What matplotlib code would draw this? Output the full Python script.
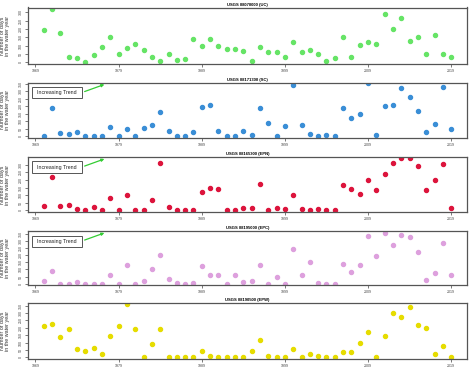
import matplotlib
matplotlib.use("Agg")
import matplotlib.pyplot as plt
from matplotlib.patches import FancyArrowPatch

years = list(range(1970, 2020))

titles = ["USGS 08070000 (UC)", "USGS 08171300 (SC)", "USGS 08165300 (EPN)",
          "USGS 08195000 (EPC)", "USGS 08190500 (EPW)"]

uc = [193, 322, 173, 30, 26, 0, 42, 89, 149, 48, 87, 107, 76, 30, 6, 48, 14, 18, 139, 97,
      139, 95, 78, 82, 66, 10, 93, 62, 60, 32, 121, 62, 76, 48, 6, 28, 153, 30, 105, 123,
      107, 288, 201, 266, 129, 149, 48, 163, 48, 32]
sc = [2, 191, 20, 15, 29, 0, 0, 0, 64, 0, 51, 0, 55, 73, 161, 35, 0, 0, 31, 196,
      207, 35, 0, 0, 35, 11, 187, 90, 4, 66, 343, 75, 15, 2, 9, 2, 189, 123, 147, 356,
      7, 205, 209, 326, 260, 169, 29, 84, 332, 51]
epn = [30, 221, 26, 37, 9, 2, 22, 2, 82, 2, 103, 2, 2, 67, 314, 22, 4, 2, 2, 118,
       148, 142, 2, 2, 13, 17, 172, 2, 17, 6, 99, 9, 2, 9, 2, 2, 170, 142, 110, 198,
       135, 243, 314, 348, 346, 290, 133, 200, 303, 13]
epc = [22, 89, 0, 0, 13, 0, 0, 0, 60, 0, 131, 0, 22, 104, 200, 31, 4, 0, 4, 124,
       58, 58, 0, 58, 13, 20, 131, 0, 47, 0, 242, 62, 151, 2, 0, 0, 140, 84, 133, 335,
       195, 357, 269, 342, 329, 220, 24, 78, 282, 60]
epw = [211, 229, 138, 191, 58, 42, 64, 20, 147, 211, 360, 191, 0, 91, 191, 0, 0, 0, 0, 44,
       7, 0, 0, 0, 0, 42, 120, 9, 0, 0, 56, 0, 24, 9, 0, 0, 36, 36, 98, 169,
       0, 142, 297, 273, 344, 220, 202, 24, 80, 0]

series = [uc, sc, epn, epc, epw]
colors = ["#66e466", "#3a8ed6", "#dc143c", "#dda0dd", "#e6dc00"]
trend = [False, True, True, True, False]
xticks = [1969, 1979, 1989, 1999, 2009, 2019]
yticks = [0, 50, 100, 150, 200, 250, 300, 350]

W, H = 474, 368
tops = [7.5, 82.5, 157, 231, 303]
bottoms = [64, 138, 212, 285, 359]
ylims = [(-10, 328), (-11, 360), (-11, 352), (-9, 368), (-11, 368)]
L, R = 28, 467

fig = plt.figure(figsize=(W / 100, H / 100), dpi=100)
plt.rcParams['font.family'] = ['Liberation Sans', 'DejaVu Sans']

for i in range(5):
    t, b = tops[i], bottoms[i]
    ax = fig.add_axes([L / W, 1 - b / H, (R - L) / W, (b - t) / H])
    ax.plot(years, series[i], linestyle='none', marker='o', ms=2.9,
            color=colors[i], mec=colors[i])
    ax.set_xlim(1968.1, 2020.9)
    ax.set_ylim(*ylims[i])
    ax.set_xticks(xticks)
    ax.set_xticklabels([str(x) for x in xticks], fontsize=2.6)
    yt = [v for v in yticks if v <= ylims[i][1] - 5]
    ax.set_yticks(yt)
    ax.set_yticklabels([str(v) for v in yt], fontsize=2.6, rotation=90, va='center')
    ax.tick_params(length=2, width=0.5, pad=1.5, colors='#444444')
    for s in ax.spines.values():
        s.set_color('#555555')
        s.set_linewidth(0.9)
    ax.set_title(titles[i], fontsize=3.0, fontweight='bold', pad=1.2)
    ax.set_ylabel("Number of days\nin the water year", fontsize=3.9,
                  linespacing=1.0, color='#333333')
    ax.yaxis.set_label_coords(-0.041, 0.5)
    if trend[i]:
        bx0, bx1 = 32, 82
        by0, by1 = t + 4.5, t + 15.5
        fx = lambda x: x / W
        fy = lambda y: 1 - y / H
        fig.patches.append(plt.Rectangle((fx(bx0), fy(by1)), fx(bx1) - fx(bx0),
                                         fy(by0) - fy(by1), transform=fig.transFigure,
                                         facecolor='white', edgecolor='#555555',
                                         linewidth=0.7, zorder=5))
        fig.text(fx((bx0 + bx1) / 2), fy((by0 + by1) / 2), "Increasing Trend",
                 fontsize=3.8, ha='center', va='center', zorder=6, color='#222222')
        arr = FancyArrowPatch((fx(bx1), fy((by0 + by1) / 2)), (fx(107), fy(t + 1)),
                              transform=fig.transFigure, arrowstyle='-|>',
                              mutation_scale=4, color='#33cc33', linewidth=0.9,
                              zorder=6)
        fig.patches.append(arr)

fig.savefig("out.png", dpi=100)
